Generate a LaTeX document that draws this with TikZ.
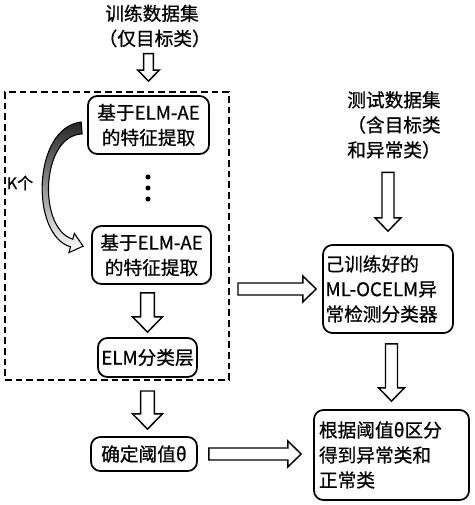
\documentclass[tikz,border=0pt]{standalone}
\usepackage{fontspec}
\setmainfont{Noto Sans CJK SC}[UprightFeatures={FakeBold=0.7}]
\usetikzlibrary{positioning,calc}

\tikzset{
  procbox/.style={draw, line width=1.3pt, rounded corners=7pt, inner sep=1pt,
    font=\fontsize{14}{18.75}\selectfont},
  groupbox/.style={draw, line width=1.5pt, dash pattern=on 5pt off 3pt, inner sep=0pt},
  fatarrow/.style={draw, line width=1.1pt, fill=white, line join=miter},
  plaintext/.style={font=\fontsize{14}{18.75}\selectfont, align=center, inner sep=0pt}
}

% hollow block arrow: [size]{from}{to}{gap at start}{gap at end}
\newcommand{\hollowarrow}[5][1]{%
  \pgfmathsetlengthmacro{\sw}{#1*4.5pt}%
  \pgfmathsetlengthmacro{\hw}{#1*9.75pt}%
  \pgfmathsetlengthmacro{\hl}{#1*10pt}%
  \coordinate (hs) at ($(#2)!#4!(#3)$);
  \coordinate (he) at ($(#3)!#5!(#2)$);
  \coordinate (hb) at ($(he)!\hl!(hs)$);
  \draw[fatarrow] ($(hs)!\sw!90:(he)$) -- ($(hb)!\sw!-90:(hs)$)
    -- ($(hb)!\hw!-90:(hs)$) -- (he) -- ($(hb)!\hw!90:(hs)$)
    -- ($(hb)!\sw!90:(hs)$) -- ($(hs)!\sw!-90:(he)$) -- cycle;}

\begin{document}
\begin{tikzpicture}[x=0.75pt,y=-0.75pt]
            \useasboundingbox (0,0) rectangle (474,505);
            % training side
            \node[plaintext] (train) at (152,26) {训练数据集\\\hspace*{4pt}（仅目标类）};
            \node[groupbox, minimum width=168pt, minimum height=216pt] (group) at (117,236) {};
            \node[procbox, minimum width=90.75pt, minimum height=43.5pt, align=center]
                (box1) at (148.5,125) {基于ELM-AE\\的特征提取};
            \node[procbox, minimum width=89.25pt, minimum height=43.5pt, align=center]
                (box2) at (151.5,255) {基于ELM-AE\\的特征提取};
            \node[procbox, minimum width=74.25pt, minimum height=29.25pt]
                (cls) at (147.5,357.5) {ELM分类层};
            \node[procbox, minimum width=79.5pt, minimum height=25.5pt]
                (theta) at (144,454) {确定阈值θ};
            \foreach \y in {177,188,199}
                \fill (148,\y) circle (1.9pt);
            \node[font=\fontsize{12}{14}\selectfont, inner sep=0pt] (kcount) at (20,183) {K个};
            % curved arrow for the K stacked layers
            \begin{scope}[shift={(box1.west)}]
                \shadedraw[top color=black!85, middle color=gray!20, bottom color=white,
                    draw=black, line width=0.8pt]
                    (-6,-3) .. controls (-55,3) and (-57,110) .. (-16.6,121.8)
                    -- (-18.2,127.6) -- (-4,121.2) -- (-12.8,108.4) -- (-14.4,114.2)
                    .. controls (-50,103) and (-46,10) .. (-5,9) -- cycle;
            \end{scope}
            % test side
            \node[plaintext] (test) at (394,125) {测试数据集\\（含目标类\\和异常类）};
            \node[procbox, minimum width=97.5pt, minimum height=66pt, text width=93.75pt, align=left]
                (ml) at (388,289) {己训练好的\\ML-OCELM异\\常检测分类器};
            \node[procbox, minimum width=116.25pt, minimum height=67.5pt, text width=108.75pt, align=left]
                (final) at (391.5,455) {根据阈值θ区分\\得到异常类和\\正常类};
            % block arrows
            \hollowarrow[0.82]{train.south -| box1.north}{box1.north}{4.5pt}{10.5pt}
            \hollowarrow[1.15]{box2.south -| cls.north}{cls.north}{6pt}{3.75pt}
            \hollowarrow[1.15]{group.south -| cls.south}{theta.north -| cls.south}{7.5pt}{5.25pt}
            \hollowarrow{test.south -| ml.north}{ml.north}{10pt}{9.75pt}
            \hollowarrow{ml.south -| final.north}{final.north}{7.5pt}{6pt}
            \hollowarrow{group.east |- ml.west}{ml.west}{6pt}{4.5pt}
            \hollowarrow{theta.east}{final.west |- theta.east}{8.25pt}{9pt}
        \end{tikzpicture}
\end{document}
